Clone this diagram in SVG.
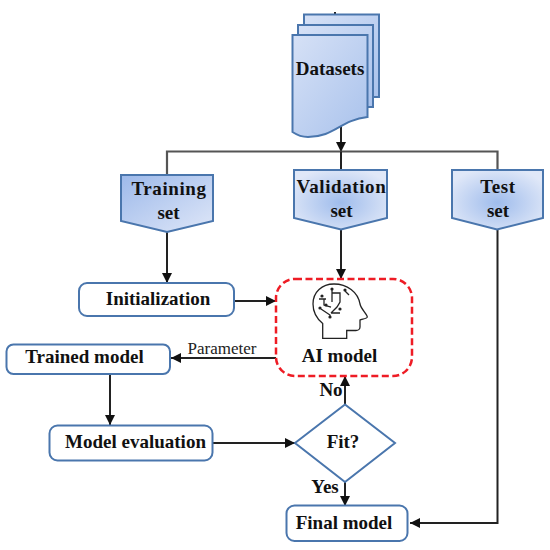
<svg xmlns="http://www.w3.org/2000/svg" width="550" height="550" viewBox="0 0 550 550">
<defs>
<linearGradient id="docFill" x1="0" y1="0" x2="1" y2="1"><stop offset="0" stop-color="#d6e1f6"/><stop offset="1" stop-color="#a9c2ec"/></linearGradient>
<linearGradient id="trainFill" x1="0" y1="0" x2="1" y2="1"><stop offset="0" stop-color="#9db9ea"/><stop offset="1" stop-color="#dfe7f8"/></linearGradient>
<radialGradient id="setFill" cx="0.5" cy="0.55" r="0.6"><stop offset="0" stop-color="#9fbcec"/><stop offset="1" stop-color="#e0e8f8"/></radialGradient>
<marker id="arrow" markerUnits="userSpaceOnUse" markerWidth="12" markerHeight="12" refX="10" refY="5" orient="auto"><path d="M0 0L10 5L0 10Z" fill="#111"/></marker>
</defs>
<style>
.shape{stroke:#4a76ad;stroke-width:2;fill:#fff}
.doc{fill:url(#docFill)}
.set{fill:url(#setFill)}
.train{fill:url(#trainFill)}
.line{fill:none;stroke:#222;stroke-width:2}
.hub{fill:none;stroke:#555;stroke-width:2.2}
.t{font-family:"Liberation Serif","Times New Roman",serif;font-weight:700;font-size:19px;fill:#111;text-anchor:middle}
.wide{letter-spacing:.6px}
.p{font-family:"Liberation Serif","Times New Roman",serif;font-size:17px;fill:#222;text-anchor:middle}
.icon{fill:none;stroke:#222;stroke-width:1.3}
.dot{fill:#222}
</style>
<g id="connectors">
<path class="line" d="M335 12V15"/>
<path class="line" d="M341 125V152" marker-end="url(#arrow)"/>
<path class="hub" d="M167 175V151.500H497.500V170"/>
<path class="line" d="M341 151.500V170"/>
<path class="line" d="M167 232V283" marker-end="url(#arrow)"/>
<path class="line" d="M341 230V279" marker-end="url(#arrow)"/>
<path class="line" d="M497.500 229V523H410" marker-end="url(#arrow)"/>
<path class="line" d="M234 301H276" marker-end="url(#arrow)"/>
<path class="line" d="M276 358H171" marker-end="url(#arrow)"/>
<path class="line" d="M110 374V425" marker-end="url(#arrow)"/>
<path class="line" d="M213 443H295" marker-end="url(#arrow)"/>
<path class="line" d="M345 404V376" marker-end="url(#arrow)"/>
<path class="line" d="M345 482V506" marker-end="url(#arrow)"/>
</g>
<g id="datasets">
<path class="shape doc" d="M304 14.500H379V97H304Z"/>
<path class="shape doc" d="M298 25H373V107H298Z"/>
<path class="shape doc" d="M292.500 35H367.500V117C340 120 335 137 308 137C302 137 297 135 292.500 132Z"/>
<text class="t" x="330" y="74.500">Datasets</text>
</g>
<g id="training-set">
<path class="shape train" d="M121 175H213V221L167 232L121 221Z"/>
<text class="t wide" x="169" y="195">Training</text>
<text class="t" x="168.500" y="218.500">set</text>
</g>
<g id="validation-set">
<path class="shape set" d="M294 170H387V218L341 229.500L294 218Z"/>
<text class="t wide" x="341.500" y="192.500">Validation</text>
<text class="t" x="341.500" y="216.500">set</text>
</g>
<g id="test-set">
<path class="shape set" d="M452 170H543V218L497 229.500L452 218Z"/>
<text class="t wide" x="498" y="192.500">Test</text>
<text class="t" x="498" y="216.500">set</text>
</g>
<g id="initialization">
<rect class="shape" x="79" y="283" width="155" height="33" rx="8"/>
<text class="t" x="158" y="305">Initialization</text>
</g>
<g id="ai-model">
<rect x="276" y="279" width="136" height="97" rx="19" fill="#fff" stroke="#ee1c25" stroke-width="2.500" stroke-dasharray="7 3.500"/>
<path class="icon" d="M322.700 338.300V323.500C316 318 313 311 313 304C313 292 322 284 334 284C347 284 358 292 360 304C361 309 367 314 367.300 317C367 319 361 319 360 320V327C360 329 358 330.500 356 330.500H346.700V338.300Z"/>
<path class="icon" d="M319 299H326M324 299V305L331 307M332 289V302M332 293H340V302L337 307L331 313M321 309L330 315V317M331 313H340M345 291L349 295"/>
<circle class="dot" cx="322" cy="296" r="1.600"/><circle class="dot" cx="332" cy="289" r="1.600"/><circle class="dot" cx="326" cy="305" r="1.600"/><circle class="dot" cx="320" cy="308" r="1.600"/><circle class="dot" cx="330" cy="317" r="1.600"/><circle class="dot" cx="340" cy="309" r="1.600"/><circle class="dot" cx="345" cy="290" r="1.600"/>
<text class="t" x="339.500" y="362">AI model</text>
</g>
<g id="trained-model">
<rect class="shape" x="6.500" y="344.500" width="163.500" height="29.500" rx="7"/>
<text class="t" x="84.500" y="363">Trained model</text>
</g>
<text class="p" x="222" y="354">Parameter</text>
<g id="model-evaluation">
<rect class="shape" x="49.500" y="425.500" width="163" height="35" rx="8"/>
<text class="t" x="135.500" y="448">Model evaluation</text>
</g>
<g id="fit">
<path class="shape" d="M295 443L345 404.500L395 443L345 482Z"/>
<text class="t" x="343" y="448">Fit?</text>
</g>
<text class="t" x="331" y="396">No</text>
<text class="t" x="325" y="493">Yes</text>
<g id="final-model">
<rect class="shape" x="286.500" y="505.500" width="121" height="35.500" rx="8"/>
<text class="t" x="344" y="529">Final model</text>
</g>
</svg>
